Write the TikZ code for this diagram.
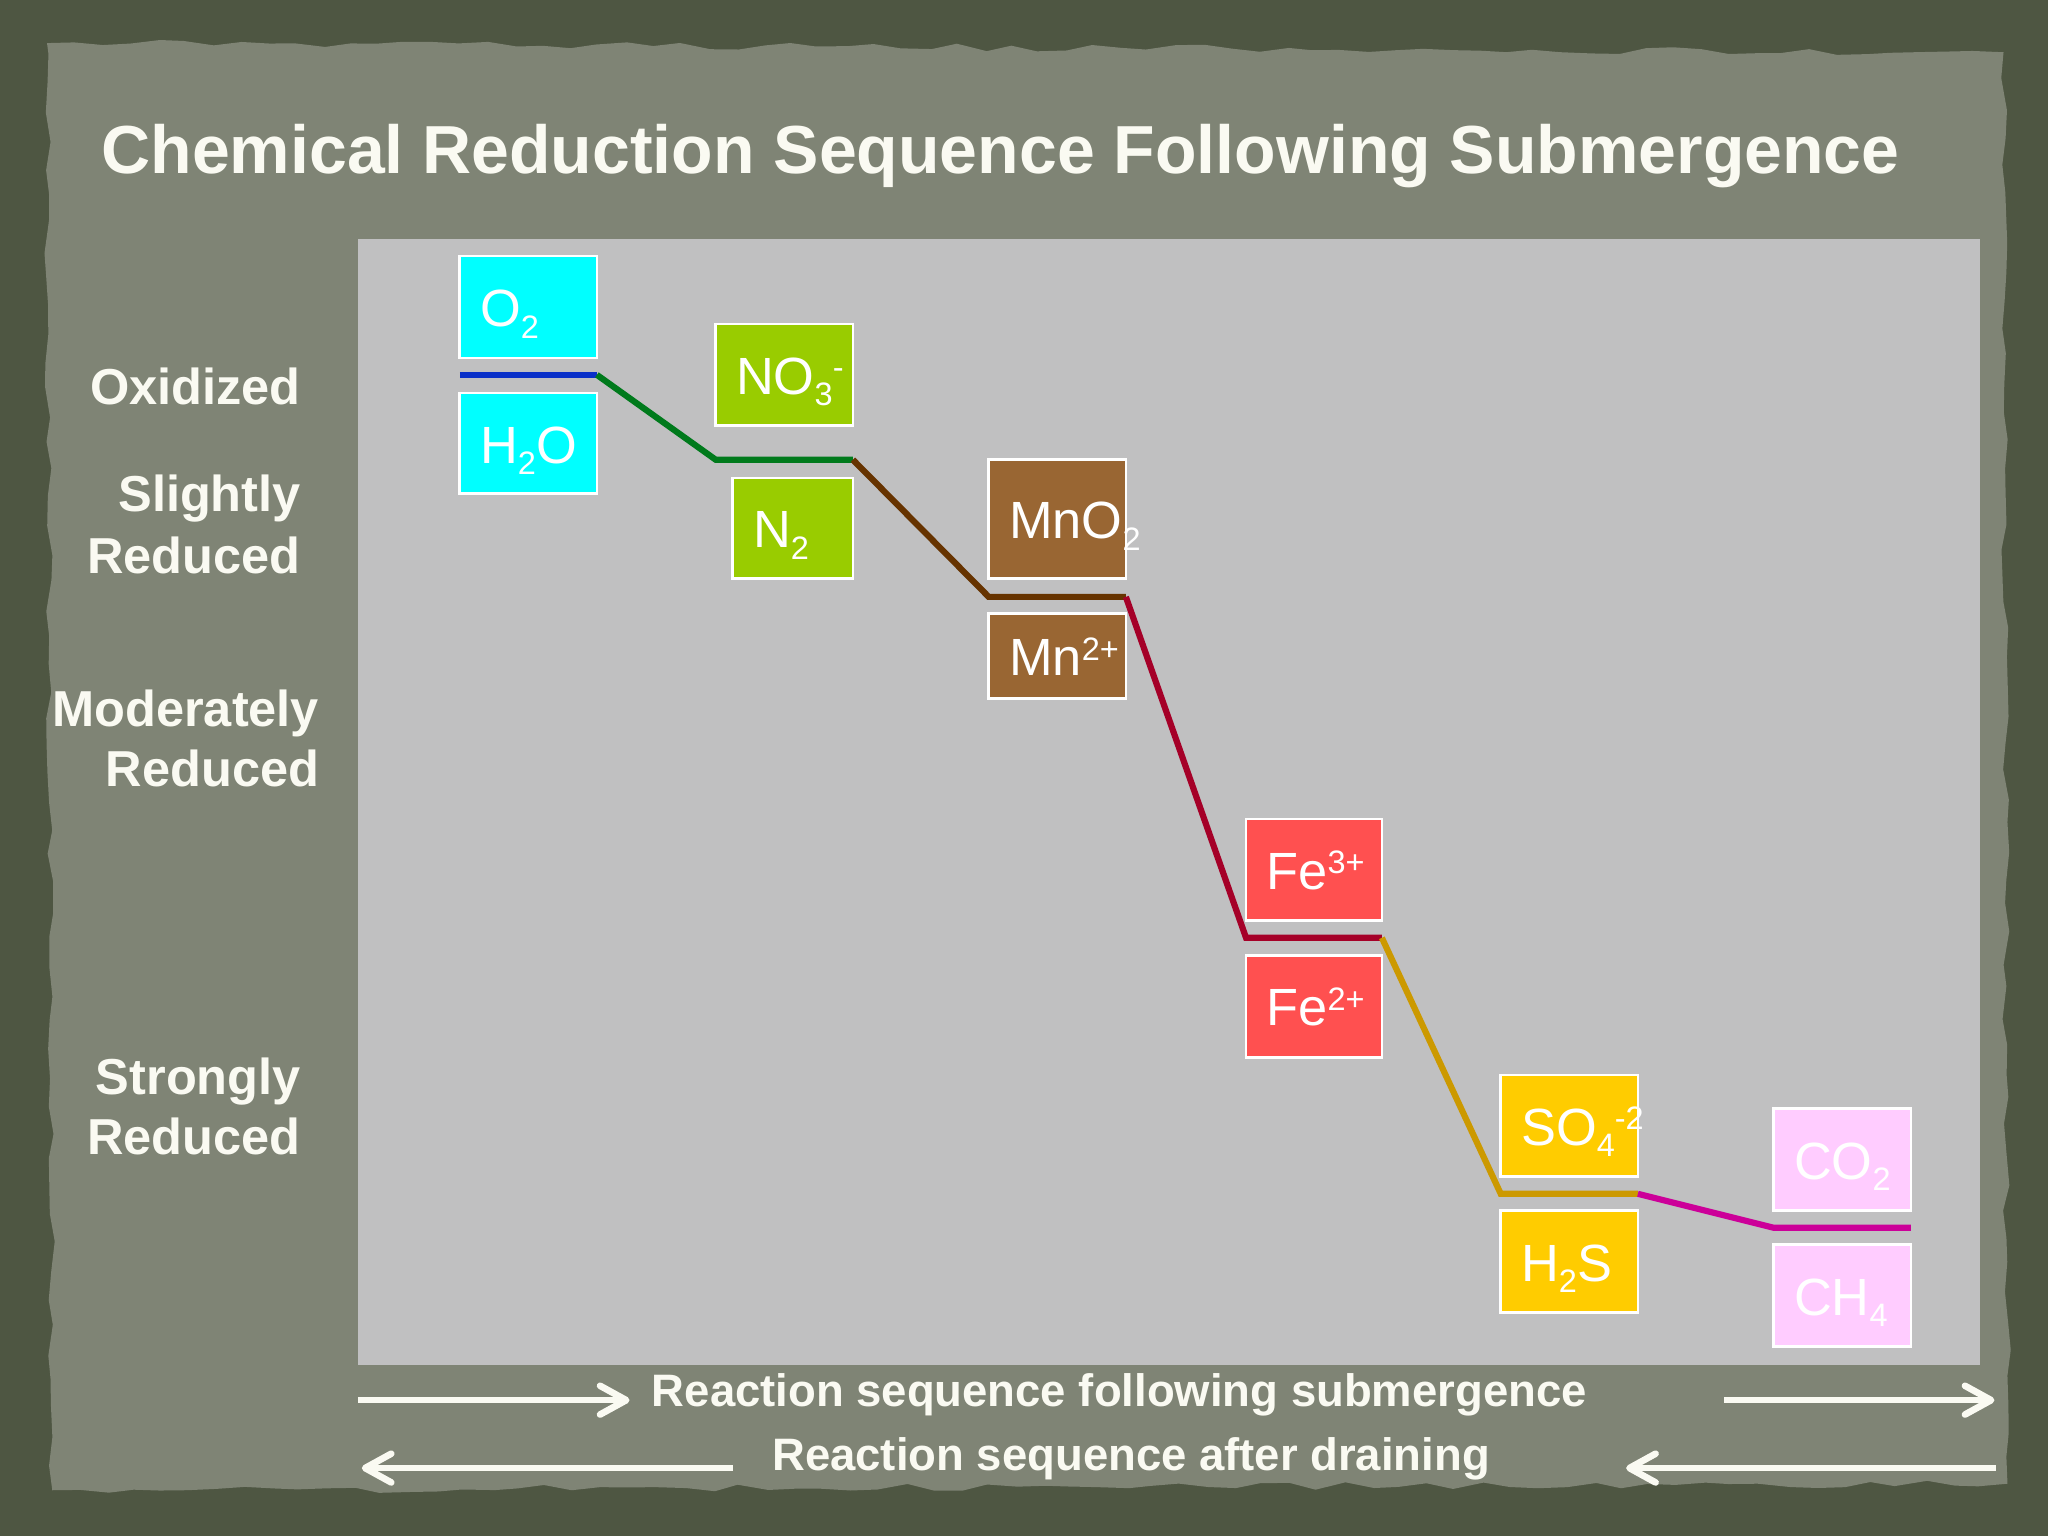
\documentclass[tikz,border=0pt]{standalone}
\usepackage{fontspec}
\setmainfont{Liberation Sans}
\usetikzlibrary{arrows.meta,calc,decorations.pathmorphing}
\definecolor{framecol}{HTML}{4E5642}
\definecolor{papercol}{HTML}{7F8475}
\definecolor{panelcol}{HTML}{C0C0C1}
\definecolor{cyanbox}{HTML}{00FFFF}
\definecolor{limebox}{HTML}{99CC00}
\definecolor{brownbox}{HTML}{996633}
\definecolor{redbox}{HTML}{FF5050}
\definecolor{yellowbox}{HTML}{FFCC00}
\definecolor{pinkbox}{HTML}{FFCCFF}
\definecolor{lblue}{HTML}{0A30C8}
\definecolor{lgreen}{HTML}{007A1C}
\definecolor{lbrown}{HTML}{663300}
\definecolor{lred}{HTML}{A50028}
\definecolor{lgold}{HTML}{CC9900}
\definecolor{lmag}{HTML}{CC0099}
\definecolor{titlecol}{HTML}{FAFAF2}
\newcommand\chsub[1]{\raisebox{-0.22em}{\scalebox{0.62}{#1}}}
\newcommand\chsup[1]{\raisebox{0.3em}{\scalebox{0.62}{#1}}}
\begin{document}
\begin{tikzpicture}[x=0.01cm,y=-0.01cm,
  chembox/.style={draw=white,line width=0.6pt,inner sep=0pt},
  boxtxt/.style={anchor=base west,inner sep=0pt,text=white,font=\fontsize{11.4pt}{13pt}\selectfont},
  sidetxt/.style={anchor=base east,inner sep=0pt,text=titlecol,font=\bfseries\fontsize{11pt}{13pt}\selectfont},
  seqtxt/.style={anchor=base,inner sep=0pt,text=titlecol,font=\bfseries\fontsize{9.9pt}{12pt}\selectfont},
  level/.style={line width=1.35pt},
  seqarrow/.style={draw=titlecol,line width=1.45pt,-{Straight Barb[length=2mm,width=2.2mm,round]}}]
\useasboundingbox (0,0) rectangle (1568,1176);
% background
\fill[framecol] (0,0) rectangle (1568,1176);
\pgfmathsetseed{7}
\fill[papercol,decorate,decoration={random steps,segment length=6pt,amplitude=0.8pt}]
  (36,33) -- (1534,40) -- (1537,1136) -- (40,1141) -- cycle;
\fill[panelcol] (274,183) rectangle (1516,1045);
% title
\node[anchor=base west,inner sep=0pt,text=titlecol,font=\bfseries\fontsize{14.8pt}{17pt}\selectfont] (title) at (77,133)
  {Chemical Reduction Sequence Following Submergence};
% side labels
\node[sidetxt] (s1) at (231,310) {Oxidized};
\node[sidetxt] (s2a) at (231,392) {Slightly};
\node[sidetxt] (s2b) at (231,439) {Reduced};
\node[sidetxt] (s3a) at (245,556) {Moderately};
\node[sidetxt] (s3b) at (245,602) {Reduced};
\node[sidetxt] (s4a) at (231,838) {Strongly};
\node[sidetxt] (s4b) at (231,884) {Reduced};
% boxes
\node[chembox,fill=cyanbox,minimum width=1.05cm,minimum height=0.78cm] (o2) at (404.5,235) {};
\node[chembox,fill=cyanbox,minimum width=1.05cm,minimum height=0.77cm] (h2o) at (404.5,339.5) {};
\node[chembox,fill=limebox,minimum width=1.05cm,minimum height=0.78cm] (no3) at (600.5,287) {};
\node[chembox,fill=limebox,minimum width=0.92cm,minimum height=0.77cm] (n2) at (607,404.5) {};
\node[chembox,fill=brownbox,minimum width=1.05cm,minimum height=0.91cm] (mno2) at (809.5,397.5) {};
\node[chembox,fill=brownbox,minimum width=1.05cm,minimum height=0.65cm] (mn) at (809.5,502.5) {};
\node[chembox,fill=redbox,minimum width=1.04cm,minimum height=0.78cm] (fe3) at (1006,666) {};
\node[chembox,fill=redbox,minimum width=1.04cm,minimum height=0.78cm] (fe2) at (1006,770.5) {};
\node[chembox,fill=yellowbox,minimum width=1.05cm,minimum height=0.78cm] (so4) at (1201.5,862) {};
\node[chembox,fill=yellowbox,minimum width=1.05cm,minimum height=0.78cm] (h2s) at (1201.5,966) {};
\node[chembox,fill=pinkbox,minimum width=1.05cm,minimum height=0.78cm] (co2) at (1410.5,888) {};
\node[chembox,fill=pinkbox,minimum width=1.05cm,minimum height=0.78cm] (ch4) at (1410.5,992) {};
% box texts
\node[boxtxt] (o2t) at ($(o2.west)+(16,15)$) {O\chsub{2}};
\node[boxtxt] (h2ot) at ($(h2o.west)+(16,15)$) {H\chsub{2}O};
\node[boxtxt] (no3t) at ($(no3.west)+(16,15)$) {NO\chsub{3}\chsup{-}};
\node[boxtxt] (n2t) at ($(n2.west)+(16,15)$) {N\chsub{2}};
\node[boxtxt] (mno2t) at ($(mno2.west)+(16,15)$) {MnO\chsub{2}};
\node[boxtxt] (mnt) at ($(mn.west)+(16,15)$) {Mn\chsup{2+}};
\node[boxtxt] (fe3t) at ($(fe3.west)+(16,15)$) {Fe\chsup{3+}};
\node[boxtxt] (fe2t) at ($(fe2.west)+(16,15)$) {Fe\chsup{2+}};
\node[boxtxt] (so4t) at ($(so4.west)+(16,15)$) {SO\chsub{4}\chsup{-2}};
\node[boxtxt] (h2st) at ($(h2s.west)+(16,15)$) {H\chsub{2}S};
\node[boxtxt] (co2t) at ($(co2.west)+(16,15)$) {CO\chsub{2}};
\node[boxtxt] (ch4t) at ($(ch4.west)+(16,15)$) {CH\chsub{4}};
% level lines
\coordinate (l0a) at (352,287);  \coordinate (l0b) at (457,287);
\coordinate (l1a) at (548,352);  \coordinate (l1b) at (653,352);
\coordinate (l2a) at (757,457);  \coordinate (l2b) at (862,457);
\coordinate (l3a) at (954,718);  \coordinate (l3b) at (1058,718);
\coordinate (l4a) at (1149,914); \coordinate (l4b) at (1254,914);
\coordinate (l5a) at (1358,940); \coordinate (l5b) at (1463,940);
\draw[level,lblue] (l0a) -- (l0b);
\draw[level,lgreen] (l0b) -- (l1a) -- (l1b);
\draw[level,lbrown] (l1b) -- (l2a) -- (l2b);
\draw[level,lred] (l2b) -- (l3a) -- (l3b);
\draw[level,lgold] (l3b) -- (l4a) -- (l4b);
\draw[level,lmag] (l4b) -- (l5a) -- (l5b);
% sequence arrows and texts
\node[seqtxt] (sub) at (857,1077) {Reaction sequence following submergence};
\node[seqtxt] (drn) at (866,1126) {Reaction sequence after draining};
\coordinate (a1s) at (274,1072);  \coordinate (a1e) at (482,1072);
\coordinate (a2s) at (1320,1072); \coordinate (a2e) at (1527,1072);
\coordinate (a3s) at (561,1124);  \coordinate (a3e) at (277,1124);
\coordinate (a4s) at (1528,1124); \coordinate (a4e) at (1245,1124);
\draw[seqarrow] (a1s) -- (a1e);
\draw[seqarrow] (a2s) -- (a2e);
\draw[seqarrow] (a3s) -- (a3e);
\draw[seqarrow] (a4s) -- (a4e);
\end{tikzpicture}
\end{document}
